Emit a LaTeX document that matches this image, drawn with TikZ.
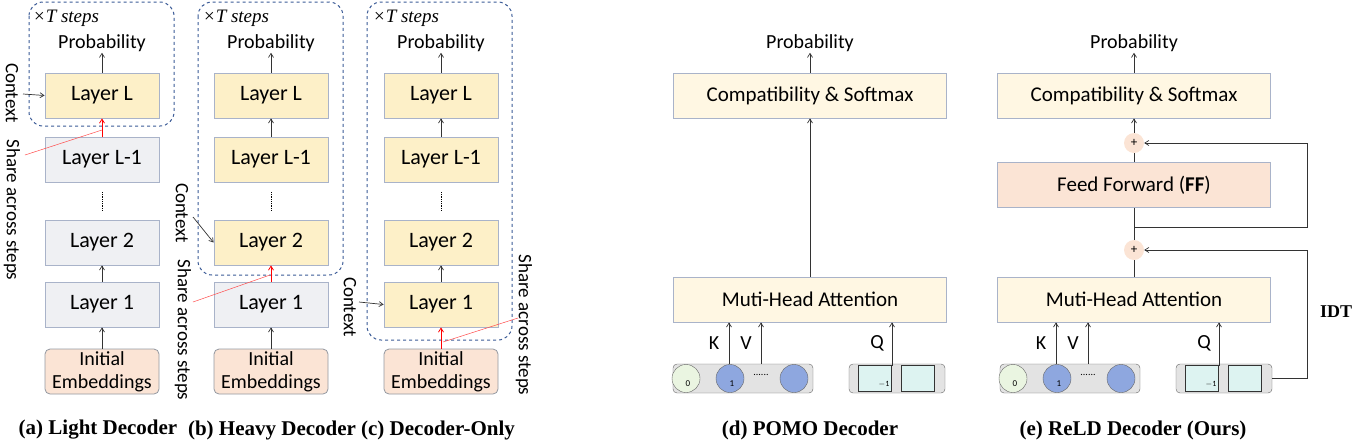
\documentclass[tikz,border=0pt]{standalone}
\usepackage{fontspec}
\setmainfont{Carlito}
\newfontfamily\serif{Liberation Serif}
\usetikzlibrary{arrows.meta}
\definecolor{bd}{HTML}{A9B3C9}
\definecolor{yel}{HTML}{FDF0C8}
\definecolor{cream}{HTML}{FFF7E3}
\definecolor{gry}{HTML}{EFF0F3}
\definecolor{pch}{HTML}{FBE4D5}
\definecolor{dash}{HTML}{3A5A96}
\definecolor{grn}{HTML}{EAF5E1}
\definecolor{blu}{HTML}{8EA7DF}
\definecolor{cyn}{HTML}{DDF3F1}
\definecolor{bar}{HTML}{E3E3E3}
\tikzset{
 box/.style={draw=bd,line width=0.8pt,minimum width=114pt,minimum height=45pt,inner sep=0pt,font=\fontsize{22}{24}\selectfont},
 Y/.style={box,fill=yel}, G/.style={box,fill=gry},
 E/.style={box,fill=pch,draw=bd!60!black!70,rounded corners=5pt,align=center,font=\fontsize{20}{23}\selectfont},
 wide/.style={draw=bd,line width=0.8pt,minimum width=273pt,minimum height=45pt,inner sep=0pt,font=\fontsize{21}{23}\selectfont},
 lbl/.style={font=\fontsize{20}{22}\selectfont,inner sep=1pt},
 rot/.style={font=\fontsize{19}{21}\selectfont,rotate=-90,inner sep=0pt},
 captxt/.style={font=\serif\bfseries\fontsize{21}{23}\selectfont},
 steps/.style={font=\serif\itshape\fontsize{19}{21}\selectfont},
 dbox/.style={draw=dash,dashed,line width=1pt,rounded corners=14pt},
 ar/.style={-{Straight Barb[length=4pt,width=5pt]},line width=0.7pt,black!80},
 rar/.style={-{Straight Barb[length=4pt,width=5pt]},line width=0.8pt,red},
 rl/.style={red!70,line width=0.5pt},
 pl/.style={circle,fill=pch,minimum size=20pt,inner sep=0pt,font=\fontsize{13}{13}\selectfont},
}
\begin{document}
\begin{tikzpicture}[x=1pt,y=-1pt]
\useasboundingbox (0,0) rectangle (1354,440);
% ---------- (a)
\draw[dbox] (29,2) rectangle (174,126);
\node[steps] (sa) at (66,18) {×T steps};
\node[lbl] (pa) at (102,43) {Probability};
\node[Y] (aL) at (102,95.5) {Layer L};
\node[G] (aL1) at (102,159.5) {Layer L-1};
\node[G] (a2) at (102,242.5) {Layer 2};
\node[G] (a1) at (102,304.5) {Layer 1};
\node[E] (ae) at (102,371.5) {Initial\\Embeddings};
\draw[ar] (aL) -- (pa);
\draw[rar] (aL1) -- (aL);
\draw[densely dotted,line width=0.8pt] (102,192) -- (102,211);
\draw[ar] (a1) -- (a2);
\draw[ar] (ae) -- (a1);
\node[rot] (ca) at (12,93) {Context};
\coordinate (cas) at (23,94);
\draw[ar] (cas) -- (aL.west);
\node[rot] (sha) at (12,210) {Share across steps};
\coordinate (ra1) at (25,155); \coordinate (ra2) at (102,130);
\draw[rl] (ra1) -- (ra2);
\node[captxt] (capa) at (98,430) {(a) Light Decoder};
% ---------- (b)
\draw[dbox] (198,2) rectangle (343,275);
\node[steps] (sb) at (236,18) {×T steps};
\node[lbl] (pb) at (271,43) {Probability};
\node[Y] (bL) at (271,95.5) {Layer L};
\node[Y] (bL1) at (271,159.5) {Layer L-1};
\node[Y] (b2) at (271,242.5) {Layer 2};
\node[G] (b1) at (271,304.5) {Layer 1};
\node[E] (be) at (271,371.5) {Initial\\Embeddings};
\draw[ar] (bL) -- (pb);
\draw[ar] (bL1) -- (bL);
\draw[densely dotted,line width=0.8pt] (271,192) -- (271,211);
\draw[rar] (b1) -- (b2);
\draw[ar] (be) -- (b1);
\node[rot] (cb) at (182,213) {Context};
\coordinate (cbs) at (193,217);
\draw[ar] (cbs) -- (b2.west);
\node[rot] (shb) at (183,330) {Share across steps};
\coordinate (rb1) at (193,302); \coordinate (rb2) at (270,275);
\draw[rl] (rb1) -- (rb2);
\node[captxt] (capb) at (272,430) {(b) Heavy Decoder};
% ---------- (c)
\draw[dbox] (367,2) rectangle (512,340);
\node[steps] (sc) at (406,18) {×T steps};
\node[lbl] (pc) at (441,43) {Probability};
\node[Y] (cL) at (441,95.5) {Layer L};
\node[Y] (cL1) at (441,159.5) {Layer L-1};
\node[Y] (c2) at (441,242.5) {Layer 2};
\node[Y] (c1) at (441,304.5) {Layer 1};
\node[E] (ce) at (441,371.5) {Initial\\Embeddings};
\draw[ar] (cL) -- (pc);
\draw[ar] (cL1) -- (cL);
\draw[densely dotted,line width=0.8pt] (441,192) -- (441,211);
\draw[ar] (c1) -- (c2);
\draw[rar] (ce) -- (c1);
\node[rot] (cc) at (350,307) {Context};
\coordinate (ccs) at (359,302);
\draw[ar] (ccs) -- (c1.west);
\node[rot] (shc) at (524,325) {Share across steps};
\coordinate (rc1) at (518,318); \coordinate (rc2) at (443,342);
\draw[rl] (rc1) -- (rc2);
\node[captxt] (capc) at (438,430) {(c) Decoder-Only};
% ---------- (d)
\node[lbl] (pd) at (810,43) {Probability};
\node[wide,fill=cream] (dc) at (810,95.5) {Compatibility \& Softmax};
\node[wide,fill=cream] (dm) at (810,299.5) {Muti-Head Attention};
\draw[ar] (dc) -- (pd);
\draw[ar] (dm) -- (dc);
\node[draw=black!60,fill=bar,rounded corners=4pt,minimum width=140pt,minimum height=29pt,inner sep=0pt] (dkb) at (743,378.5) {};
\node[circle,draw=black!60,fill=grn,minimum width=24pt,minimum height=28pt,inner sep=0pt] (d0) at (686,378.5) {};
\node[font=\fontsize{9}{9}\selectfont] at (688,384) {0};
\node[circle,draw=black!60,fill=blu,minimum width=24pt,minimum height=28pt,inner sep=0pt] (d1) at (730,378.5) {};
\node[font=\fontsize{9}{9}\selectfont] at (732,384) {1};
\node[font=\fontsize{10}{10}\selectfont] (ddots) at (761,375) {......};
\node[circle,draw=black!60,fill=blu,minimum width=24pt,minimum height=28pt,inner sep=0pt] (dn) at (794,378.5) {};
\node[draw=black!60,fill=bar,rounded corners=4pt,minimum width=96pt,minimum height=29pt,inner sep=0pt] (dqb) at (897,378.5) {};
\node[draw=black!80,fill=cyn,minimum width=33pt,minimum height=26pt,inner sep=0pt] (dq1) at (874.5,378.5) {};
\node[font=\fontsize{8}{8}\selectfont] at (884,384) {$-$1};
\node[draw=black!80,fill=cyn,minimum width=33pt,minimum height=26pt,inner sep=0pt] (dq2) at (917.5,378.5) {};
\coordinate (dk) at (729,364); \coordinate (dv) at (761,364); \coordinate (dq) at (892,366);
\draw[ar] (dk) -- (dk |- dm.south);
\draw[ar] (dv) -- (dv |- dm.south);
\draw[ar] (dq) -- (dq |- dm.south);
\node[lbl] (dK) at (714,343) {K};
\node[lbl] (dV) at (746,343) {V};
\node[lbl] (dQ) at (877,343) {Q};
\node[captxt] (capd) at (810,430) {(d) POMO Decoder};
% ---------- (e)
\node[lbl] (pe) at (1134,43) {Probability};
\node[wide,fill=cream] (ec) at (1134,95.5) {Compatibility \& Softmax};
\node[pl] (ep1) at (1134,143) {+};
\node[wide,fill=pch] (ef) at (1134,185) {Feed Forward (\textbf{FF})};
\coordinate (ej) at (1134,227);
\node[pl] (ep2) at (1134,250) {+};
\node[wide,fill=cream] (em) at (1134,299.5) {Muti-Head Attention};
\draw[ar] (ep1) -- (ec);
\draw[ar] (ec) -- (pe);
\draw[line width=0.7pt,black!80] (ef) -- (ep1);
\draw[line width=0.7pt,black!80] (em) -- (ep2);
\draw[line width=0.7pt,black!80] (ep2) -- (ef);
\coordinate (er1) at (1307,227);
\draw[ar] (ej) -- (er1) |- (ep1);
\node[draw=black!60,fill=bar,rounded corners=4pt,minimum width=140pt,minimum height=29pt,inner sep=0pt] (ekb) at (1070,378.5) {};
\node[circle,draw=black!60,fill=grn,minimum width=24pt,minimum height=28pt,inner sep=0pt] (e0) at (1013,378.5) {};
\node[font=\fontsize{9}{9}\selectfont] at (1015,384) {0};
\node[circle,draw=black!60,fill=blu,minimum width=24pt,minimum height=28pt,inner sep=0pt] (e1) at (1057,378.5) {};
\node[font=\fontsize{9}{9}\selectfont] at (1059,384) {1};
\node[font=\fontsize{10}{10}\selectfont] (edots) at (1088,375) {......};
\node[circle,draw=black!60,fill=blu,minimum width=24pt,minimum height=28pt,inner sep=0pt] (en) at (1121,378.5) {};
\node[draw=black!60,fill=bar,rounded corners=4pt,minimum width=96pt,minimum height=29pt,inner sep=0pt] (eqb) at (1224,378.5) {};
\node[draw=black!80,fill=cyn,minimum width=33pt,minimum height=26pt,inner sep=0pt] (eq1) at (1201.5,378.5) {};
\node[font=\fontsize{8}{8}\selectfont] at (1211,384) {$-$1};
\node[draw=black!80,fill=cyn,minimum width=33pt,minimum height=26pt,inner sep=0pt] (eq2) at (1244.5,378.5) {};
\coordinate (ek) at (1056,364); \coordinate (ev) at (1088,364); \coordinate (eq) at (1219,366);
\draw[ar] (ek) -- (ek |- em.south);
\draw[ar] (ev) -- (ev |- em.south);
\draw[ar] (eq) -- (eq |- em.south);
\node[lbl] (eK) at (1041,343) {K};
\node[lbl] (eV) at (1073,343) {V};
\node[lbl] (eQ) at (1204,343) {Q};
\coordinate (eidt) at (1307,378.5);
\draw[ar] (eqb.east) -- (eidt) |- (ep2);
\node[font=\serif\bfseries\fontsize{18}{20}\selectfont] (IDT) at (1336,312) {IDT};
\node[captxt] (cape) at (1133,430) {(e) ReLD Decoder (Ours)};
\end{tikzpicture}
\end{document}
